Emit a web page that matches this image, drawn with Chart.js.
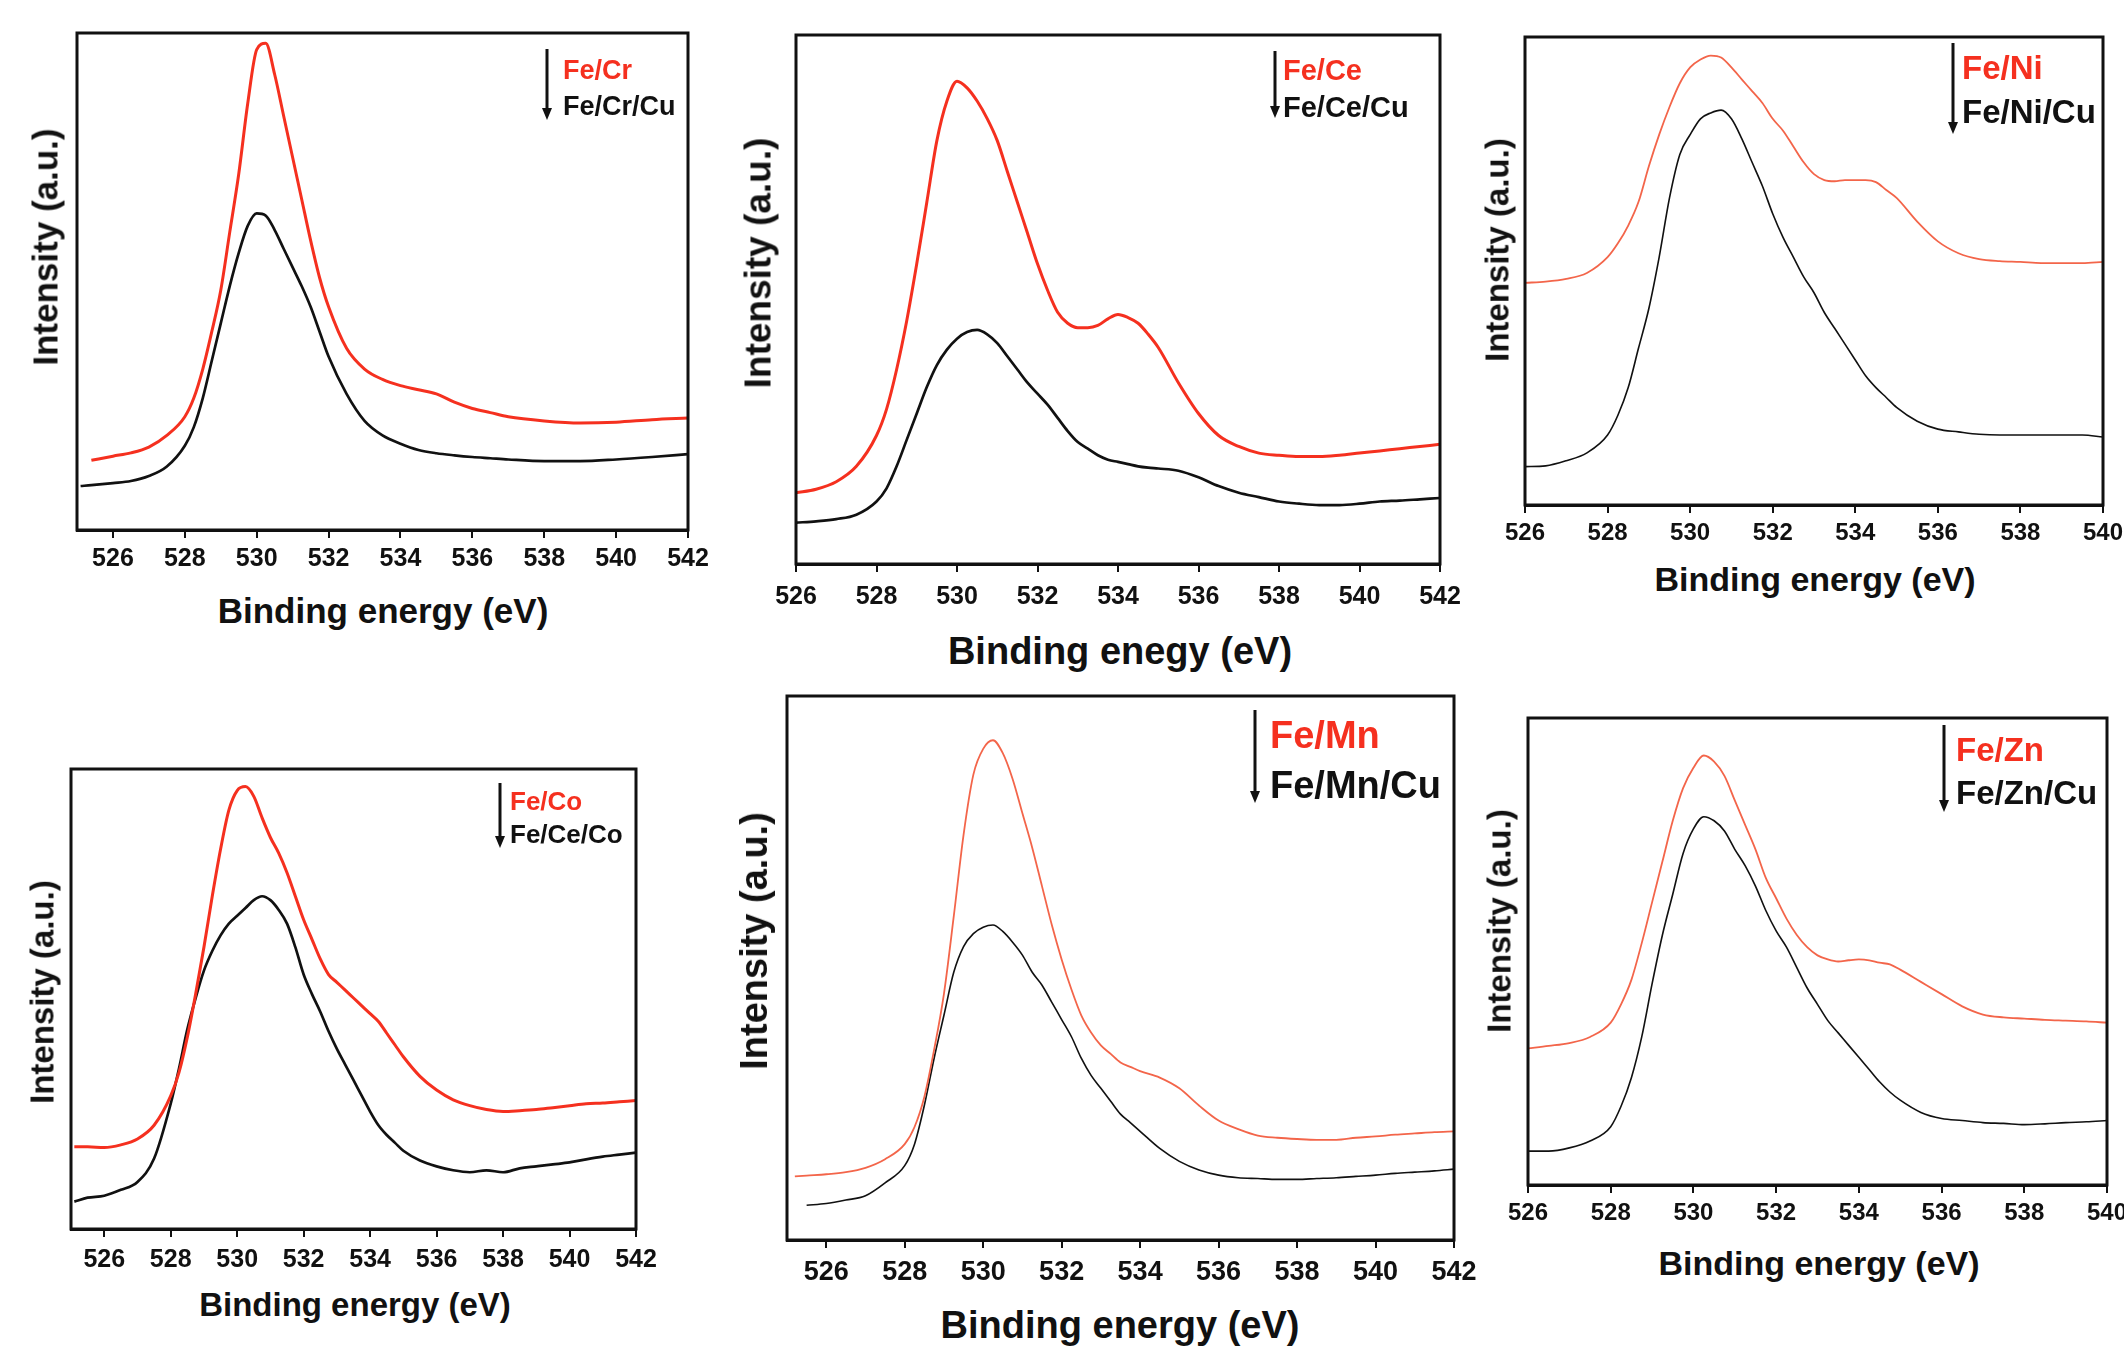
<!DOCTYPE html>
<html>
<head>
<meta charset="utf-8">
<script src="https://cdn.jsdelivr.net/npm/chart.js@4.4.1/dist/chart.umd.min.js"></script>
<style>
  body { margin: 0; background: #fff; }
  #page { position: relative; width: 2124px; height: 1354px; overflow: hidden;
          font-family: "Liberation Sans", Arial, sans-serif; font-weight: bold; color: #111; }
  .txt { position: absolute; white-space: nowrap; line-height: 1; }
  canvas, svg { position: absolute; }
</style>
</head>
<body>
<div id="page"></div>
<script>
// O 1s spectra, intensity in arbitrary units
const ticksWide = [526, 528, 530, 532, 534, 536, 538, 540, 542];
const ticksNarrow = [526, 528, 530, 532, 534, 536, 538, 540];

const crEnergy = [525.1, 525.4, 526, 526.5, 527, 527.5, 528, 528.25, 528.5, 528.75, 529, 529.25, 529.5, 529.75,
  530, 530.25, 530.5, 530.75, 531, 531.25, 531.5, 531.75, 532, 532.5, 533, 533.5, 534, 534.5, 535, 535.5,
  536, 536.5, 537, 538, 539, 540, 541, 542];
const feCr = [null, 168, 178, 186, 200, 228, 273, 318, 388, 478, 578, 718, 858, 1028, 1158, 1173, 1098, 998,
  898, 798, 698, 608, 538, 438, 388, 363, 348, 338, 328, 308, 293, 283, 273, 263, 258, 260, 266, 270];
const feCrCu = [106, 108, 113, 118, 130, 153, 203, 248, 318, 408, 498, 588, 668, 733, 763, 758, 723, 678,
  633, 588, 538, 478, 418, 328, 263, 228, 208, 193, 185, 180, 176, 173, 170, 166, 166, 170, 176, 183];

const ceEnergy = [526, 526.5, 527, 527.5, 528, 528.25, 528.5, 528.75, 529, 529.25, 529.5, 529.75, 530, 530.25,
  530.5, 530.75, 531, 531.25, 531.5, 531.75, 532, 532.25, 532.5, 532.75, 533, 533.25, 533.5, 533.75, 534,
  534.25, 534.5, 534.75, 535, 535.5, 536, 536.5, 537, 537.5, 538, 538.5, 539, 539.5, 540, 540.5, 541, 541.5, 542];
const feCe = [162, 170, 187, 222, 292, 352, 442, 552, 682, 822, 962, 1052, 1097, 1082, 1052, 1012, 962, 892,
  822, 752, 682, 622, 572, 547, 537, 537, 542, 557, 567, 560, 547, 522, 492, 412, 342, 292, 267, 252, 247,
  244, 244, 247, 252, 257, 262, 267, 272];
const feCeCu = [94, 97, 102, 112, 142, 172, 222, 282, 342, 402, 452, 487, 512, 527, 532, 522, 502, 472, 442,
  412, 387, 362, 332, 302, 277, 262, 247, 237, 232, 227, 222, 219, 217, 212, 197, 177, 162, 152, 142, 137,
  134, 134, 137, 142, 144, 147, 150];

const niEnergy = [526, 526.5, 527, 527.5, 528, 528.25, 528.5, 528.75, 529, 529.25, 529.5, 529.75, 530, 530.25,
  530.5, 530.75, 531, 531.25, 531.5, 531.75, 532, 532.25, 532.5, 532.75, 533, 533.25, 533.5, 533.75, 534,
  534.25, 534.5, 534.75, 535, 535.5, 536, 536.5, 537, 537.5, 538, 538.5, 539, 539.5, 540];
const feNi = [562, 565, 572, 587, 627, 662, 707, 767, 857, 937, 1007, 1067, 1107, 1127, 1137, 1132, 1107,
  1077, 1047, 1017, 977, 947, 907, 867, 837, 822, 819, 822, 822, 822, 817, 797, 777, 717, 667, 637, 622,
  617, 615, 612, 612, 612, 615];
const feNiCu = [97, 99, 112, 132, 177, 227, 297, 397, 497, 627, 777, 887, 937, 977, 992, 999, 977, 927, 867,
  807, 737, 677, 627, 577, 537, 487, 447, 407, 367, 327, 297, 272, 247, 212, 192, 185, 179, 177, 177, 177,
  177, 177, 172];

const coEnergy = [525.1, 525.5, 526, 526.5, 527, 527.5, 528, 528.25, 528.5, 528.75, 529, 529.25, 529.5,
  529.75, 530, 530.25, 530.5, 530.75, 531, 531.25, 531.5, 531.75, 532, 532.25, 532.5, 532.75, 533, 533.25,
  533.5, 533.75, 534, 534.25, 534.5, 534.75, 535, 535.5, 536, 536.5, 537, 537.5, 538, 538.5, 539, 539.5,
  540, 540.5, 541, 541.5, 542];
const feCo = [210, 210, 208, 215, 230, 265, 340, 400, 490, 600, 720, 850, 970, 1070, 1120, 1130, 1105, 1050,
  1000, 960, 910, 850, 790, 740, 690, 650, 630, 610, 590, 570, 550, 530, 500, 470, 440, 390, 355, 330, 315,
  305, 300, 302, 305, 310, 315, 320, 322, 325, 328];
const feCeCo = [70, 80, 85, 100, 120, 180, 320, 410, 510, 590, 660, 710, 750, 780, 800, 820, 840, 850, 840,
  815, 780, 720, 650, 600, 555, 505, 460, 420, 380, 340, 300, 265, 240, 220, 200, 175, 160, 150, 145, 150,
  145, 155, 160, 165, 170, 178, 185, 190, 195];

const mnEnergy = [525.2, 525.5, 526, 526.5, 527, 527.5, 528, 528.25, 528.5, 528.75, 529, 529.25, 529.5,
  529.75, 530, 530.25, 530.5, 530.75, 531, 531.25, 531.5, 531.75, 532, 532.25, 532.5, 532.75, 533, 533.25,
  533.5, 533.75, 534, 534.5, 535, 535.5, 536, 536.5, 537, 537.5, 538, 538.5, 539, 539.5, 540, 540.5, 541,
  541.5, 542];
const feMn = [148, 150, 153, 158, 168, 188, 223, 263, 333, 443, 573, 753, 943, 1083, 1143, 1163, 1133, 1073,
  993, 913, 823, 733, 653, 583, 523, 483, 453, 433, 413, 403, 393, 378, 353, 313, 278, 258, 243, 238, 235,
  233, 233, 238, 241, 245, 248, 251, 253];
const feMnCu = [null, 81, 85, 93, 103, 133, 173, 223, 313, 423, 523, 623, 683, 713, 728, 733, 718, 693, 663,
  623, 593, 553, 513, 473, 423, 383, 353, 323, 293, 273, 253, 213, 183, 163, 151, 145, 143, 141, 141, 143,
  145, 148, 151, 155, 158, 161, 165];

const znEnergy = [526, 526.5, 527, 527.5, 528, 528.25, 528.5, 528.75, 529, 529.25, 529.5, 529.75, 530, 530.25,
  530.5, 530.75, 531, 531.25, 531.5, 531.75, 532, 532.25, 532.5, 532.75, 533, 533.25, 533.5, 533.75, 534,
  534.25, 534.5, 534.75, 535, 535.5, 536, 536.5, 537, 537.5, 538, 538.5, 539, 539.5, 540];
const feZn = [335, 341, 348, 363, 398, 443, 503, 593, 693, 793, 893, 973, 1023, 1053, 1038, 1003, 943, 883,
  823, 753, 703, 653, 613, 583, 563, 553, 548, 551, 553, 551, 545, 541, 528, 498, 468, 438, 418, 411, 408,
  405, 403, 401, 398];
const feZnCu = [83, 83, 91, 108, 143, 193, 263, 363, 493, 613, 713, 813, 873, 903, 893, 868, 823, 783, 733,
  673, 623, 583, 533, 483, 443, 403, 373, 343, 313, 283, 253, 228, 208, 178, 163, 158, 153, 151, 148, 150,
  153, 155, 158];

const RED = "#f5301f";
const RED_LIGHT = "#f3654a";
const BLACK = "#111111";
const FONT = '"Liberation Sans", Arial, sans-serif';

const page = document.getElementById("page");

// draws the closed box round the plot area
const framePlugin = {
  id: "frame",
  afterDraw(chart) {
    const a = chart.chartArea;
    const ctx = chart.ctx;
    ctx.save();
    ctx.strokeStyle = BLACK;
    ctx.lineWidth = 3;
    ctx.strokeRect(a.left, a.top, a.right - a.left, a.bottom - a.top);
    ctx.restore();
  },
};

function addText(text, x, y, size, color, rotate, anchorLeft) {
  const d = document.createElement("div");
  d.className = "txt";
  d.textContent = text;
  d.style.left = x + "px";
  d.style.top = y + "px";
  d.style.fontSize = size + "px";
  d.style.color = color;
  if (rotate) d.style.transform = "translate(-50%,-50%) rotate(-90deg)";
  else if (anchorLeft) d.style.transform = "translate(0,-50%)";
  else d.style.transform = "translate(-50%,-50%)";
  page.appendChild(d);
}

function addArrow(x, y1, y2) {
  const ns = "http://www.w3.org/2000/svg";
  const svg = document.createElementNS(ns, "svg");
  svg.setAttribute("width", 20);
  svg.setAttribute("height", y2 - y1 + 2);
  svg.style.left = (x - 10) + "px";
  svg.style.top = y1 + "px";
  const h = y2 - y1;
  svg.innerHTML =
    '<line x1="10" y1="0" x2="10" y2="' + (h - 8) + '" stroke="#111" stroke-width="3"/>' +
    '<polygon points="5,' + (h - 12) + ' 15,' + (h - 12) + ' 10,' + h + '" fill="#111"/>';
  page.appendChild(svg);
}

function createChart(p) {
  const padL = 40, padR = 40, padT = 10, axisH = 50;
  const w = p.right - p.left, h = p.bottom - p.top;
  const canvas = document.createElement("canvas");
  canvas.width = w + padL + padR;
  canvas.height = h + padT + axisH;
  canvas.style.left = (p.left - padL) + "px";
  canvas.style.top = (p.top - padT) + "px";
  page.appendChild(canvas);

  const toPoints = (vals) => p.energy.map((e, i) => ({ x: e, y: vals[i] }));

  new Chart(canvas, {
    type: "line",
    data: {
      datasets: [
        {
          label: p.redLabel,
          data: toPoints(p.red),
          borderColor: p.redColor,
          borderWidth: p.lw,
          pointRadius: 0,
          cubicInterpolationMode: "monotone",
        },
        {
          label: p.blackLabel,
          data: toPoints(p.black),
          borderColor: BLACK,
          borderWidth: p.lw * 0.9,
          pointRadius: 0,
          cubicInterpolationMode: "monotone",
        },
      ],
    },
    options: {
      responsive: false,
      animation: false,
      layout: { padding: { left: padL, right: padR, top: padT, bottom: 0 } },
      plugins: { legend: { display: false }, tooltip: { enabled: false } },
      scales: {
        x: {
          type: "linear",
          min: p.xMin,
          max: p.xMax,
          afterBuildTicks: (s) => { s.ticks = p.ticks.map((v) => ({ value: v })); },
          afterFit: (s) => { s.height = axisH; },
          ticks: {
            color: BLACK,
            padding: p.tickPad,
            maxRotation: 0,
            autoSkip: false,
            font: { family: FONT, size: p.tickSize, weight: "bold" },
          },
          grid: { drawOnChartArea: false, drawTicks: true, tickLength: 8, color: BLACK, lineWidth: 2 },
          border: { display: true, color: BLACK, width: 3 },
        },
        y: { display: false, min: 0, max: p.yMax },
      },
    },
    plugins: [framePlugin],
  });

  addText(p.xTitle, p.xt[0], p.xt[1], p.xtSize, BLACK);
  addText("Intensity (a.u.)", p.yt[0], p.yt[1], p.ytSize, BLACK, true);
  addArrow(p.arrow[0], p.arrow[1], p.arrow[2]);
  addText(p.redLabel, p.leg[0], p.leg[1], p.legSize, RED, false, true);
  addText(p.blackLabel, p.leg[0], p.leg[2], p.legSize, BLACK, false, true);
}

createChart({
  energy: crEnergy, red: feCr, black: feCrCu, redLabel: "Fe/Cr", blackLabel: "Fe/Cr/Cu",
  left: 77, top: 33, right: 688, bottom: 530, xMin: 525, xMax: 542, yMax: 1198, ticks: ticksWide,
  tickSize: 25, tickPad: 6, lw: 3, redColor: RED,
  xTitle: "Binding energy (eV)", xt: [383, 610], xtSize: 35, yt: [45, 247], ytSize: 35,
  arrow: [547, 49, 120], leg: [563, 70, 106], legSize: 27,
});
createChart({
  energy: ceEnergy, red: feCe, black: feCeCu, redLabel: "Fe/Ce", blackLabel: "Fe/Ce/Cu",
  left: 796, top: 35, right: 1440, bottom: 564, xMin: 526, xMax: 542, yMax: 1202, ticks: ticksWide,
  tickSize: 25, tickPad: 10, lw: 3, redColor: RED,
  xTitle: "Binding enegy (eV)", xt: [1120, 651], xtSize: 38, yt: [758, 263], ytSize: 37,
  arrow: [1275, 51, 118], leg: [1283, 70, 107], legSize: 29,
});
createChart({
  energy: niEnergy, red: feNi, black: feNiCu, redLabel: "Fe/Ni", blackLabel: "Fe/Ni/Cu",
  left: 1525, top: 37, right: 2103, bottom: 505, xMin: 526, xMax: 540, yMax: 1184, ticks: ticksNarrow,
  tickSize: 24, tickPad: 6, lw: 1.8, redColor: RED_LIGHT,
  xTitle: "Binding energy (eV)", xt: [1815, 579], xtSize: 34, yt: [1497, 250], ytSize: 33,
  arrow: [1953, 43, 134], leg: [1962, 67, 111], legSize: 33,
});
createChart({
  energy: coEnergy, red: feCo, black: feCeCo, redLabel: "Fe/Co", blackLabel: "Fe/Ce/Co",
  left: 71, top: 769, right: 636, bottom: 1229, xMin: 525, xMax: 542, yMax: 1175, ticks: ticksWide,
  tickSize: 25, tickPad: 8, lw: 3, redColor: RED,
  xTitle: "Binding energy (eV)", xt: [355, 1304], xtSize: 33, yt: [42, 992], ytSize: 33,
  arrow: [500, 783, 848], leg: [510, 801, 834], legSize: 26,
});
createChart({
  energy: mnEnergy, red: feMn, black: feMnCu, redLabel: "Fe/Mn", blackLabel: "Fe/Mn/Cu",
  left: 787, top: 696, right: 1454, bottom: 1240, xMin: 525, xMax: 542, yMax: 1266, ticks: ticksWide,
  tickSize: 27, tickPad: 8, lw: 1.8, redColor: RED_LIGHT,
  xTitle: "Binding energy (eV)", xt: [1120, 1325], xtSize: 38, yt: [754, 941], ytSize: 38,
  arrow: [1255, 710, 803], leg: [1270, 735, 785], legSize: 38,
});
createChart({
  energy: znEnergy, red: feZn, black: feZnCu, redLabel: "Fe/Zn", blackLabel: "Fe/Zn/Cu",
  left: 1528, top: 718, right: 2107, bottom: 1185, xMin: 526, xMax: 540, yMax: 1145, ticks: ticksNarrow,
  tickSize: 24, tickPad: 6, lw: 1.8, redColor: RED_LIGHT,
  xTitle: "Binding energy (eV)", xt: [1819, 1263], xtSize: 34, yt: [1499, 921], ytSize: 33,
  arrow: [1944, 725, 812], leg: [1956, 749, 792], legSize: 33,
});
</script>
</body>
</html>
